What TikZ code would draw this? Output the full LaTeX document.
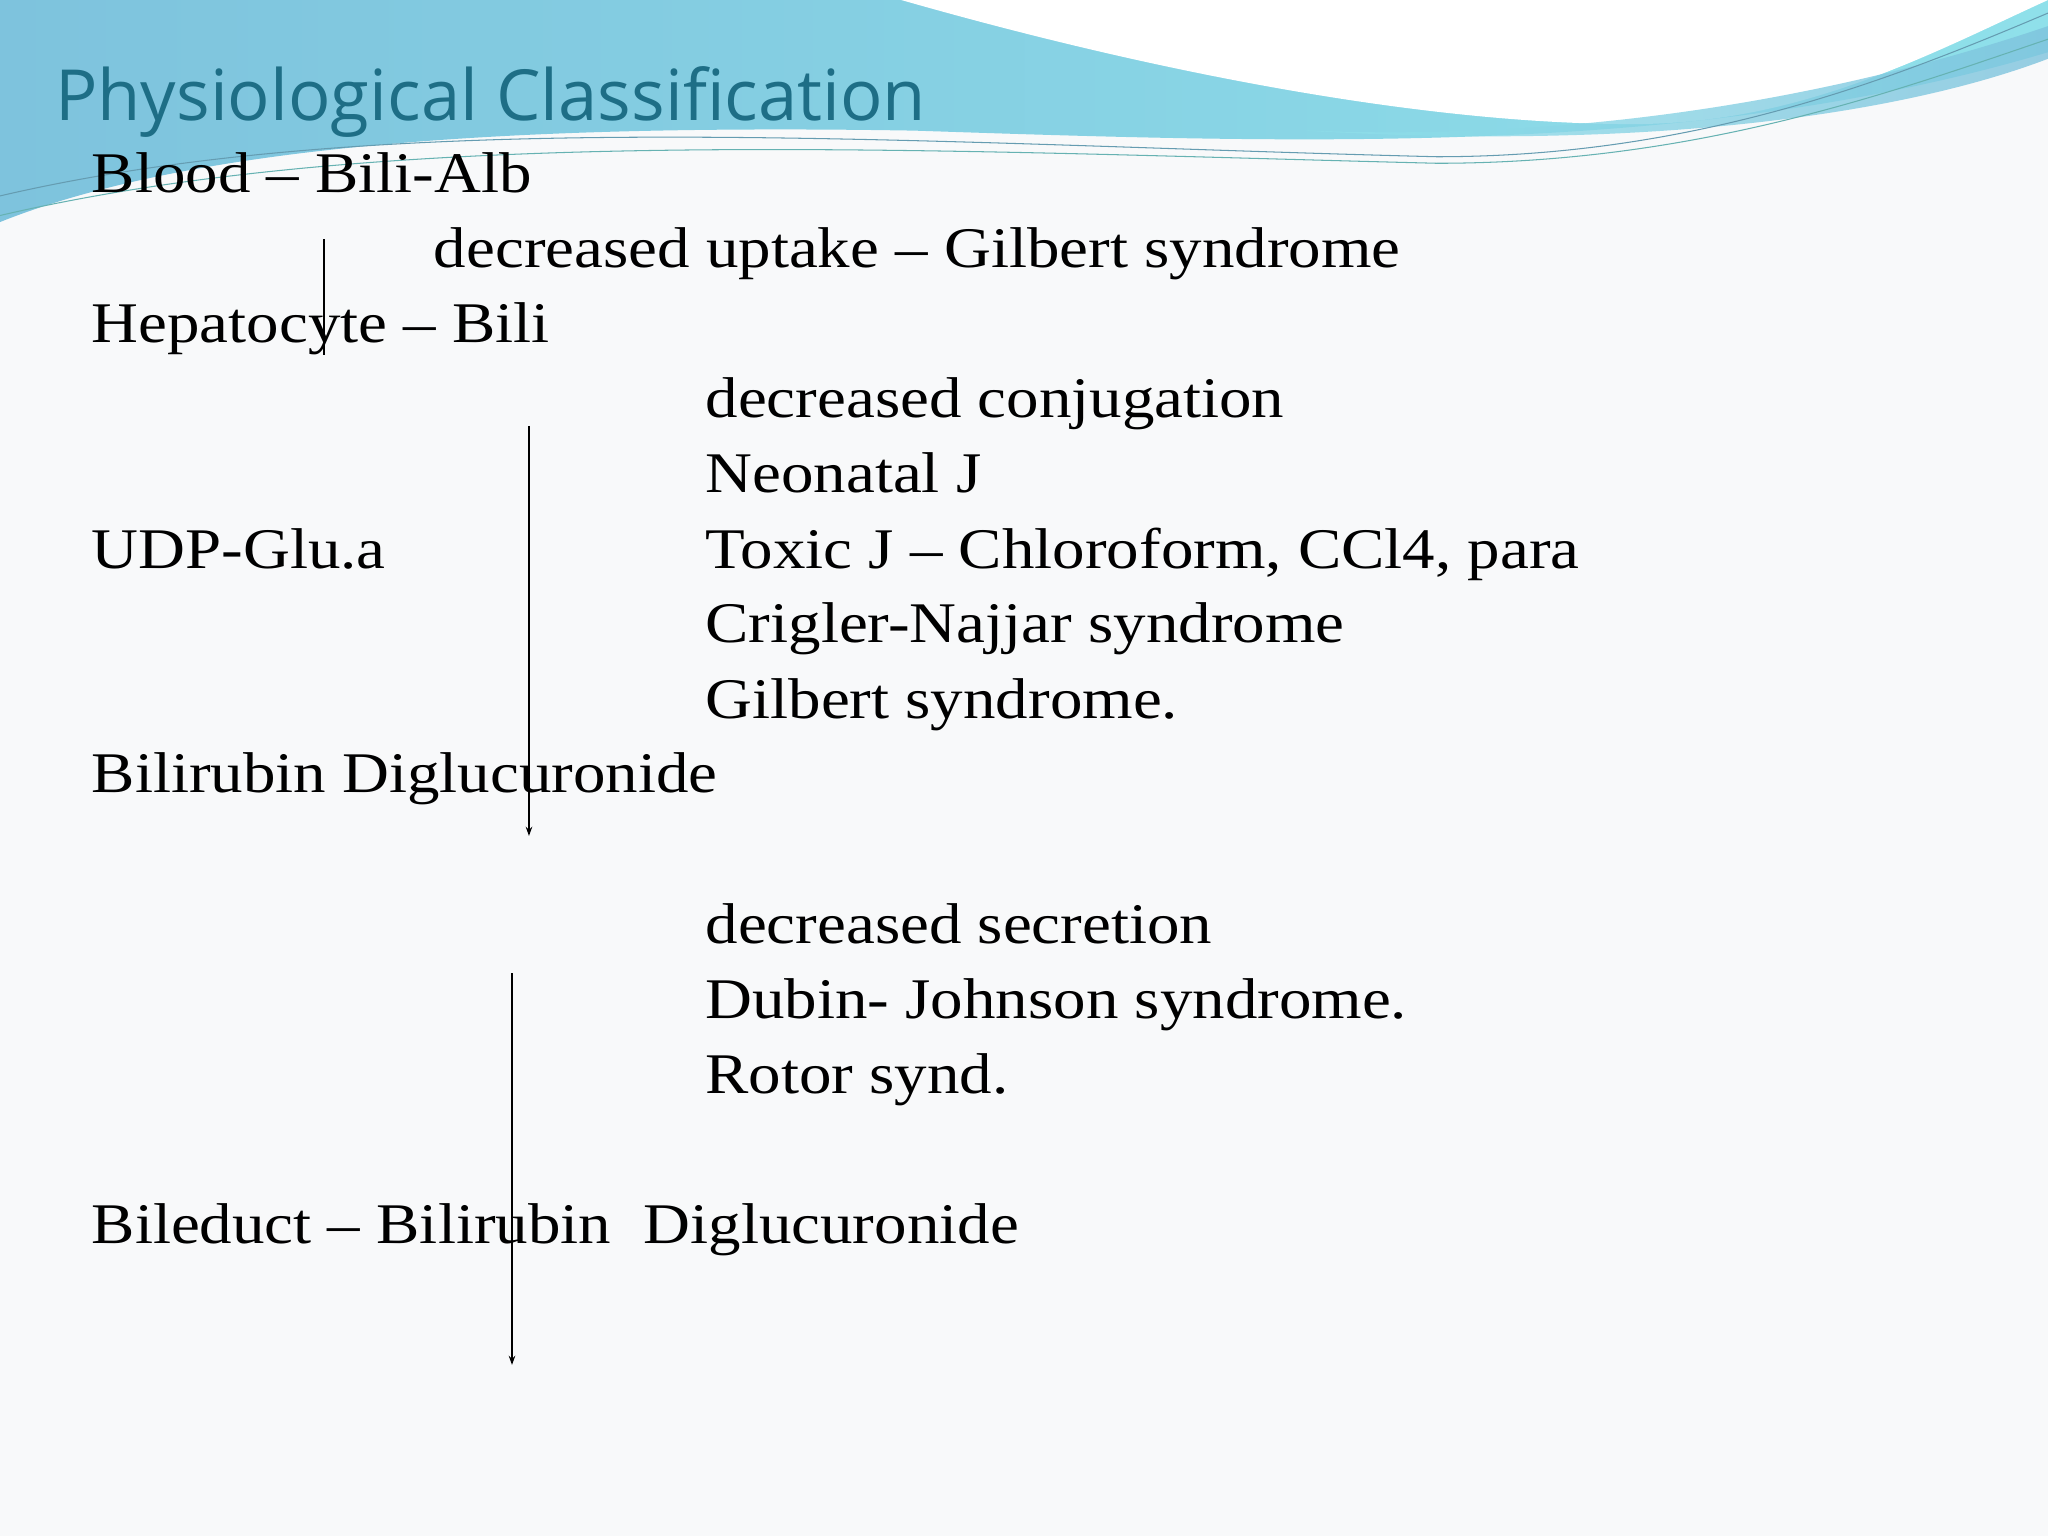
\documentclass[tikz,border=0pt]{standalone}
\usepackage{fontspec}
\setmainfont{Liberation Serif}[FakeStretch=1.13]
\newfontfamily\titlefont{Open Sans}
\usetikzlibrary{arrows.meta}
\definecolor{bg}{HTML}{F8F9FA}
\definecolor{wblue}{HTML}{7EC3DD}
\definecolor{wcyan}{HTML}{8FE0EA}
\definecolor{ttl}{HTML}{1E6E86}
\tikzset{txt/.style={anchor=base west,inner sep=0pt,font=\fontsize{44}{48}\selectfont},
 arr/.style={line width=1.2pt,-{Stealth[length=7pt,width=5pt]}}}
\begin{document}
\begin{tikzpicture}[x=1pt,y=-1pt]
\fill[bg] (0,0) rectangle (1568,1176);
\useasboundingbox (0,0) rectangle (1568,1176);
% waves
\shade[left color=wblue,right color=wcyan] (0,0) -- (1568,0) -- (1568,40) .. controls (1300,120) and (1000,110) .. (700,100) .. controls (400,95) and (150,110) .. (0,170) -- cycle;
\fill[white] (690,0) .. controls (900,60) and (1100,95) .. (1250,95) .. controls (1380,95) and (1480,40) .. (1568,0) -- cycle;
\shade[left color=wcyan,right color=wblue,opacity=0.8] (1000,100) .. controls (1250,110) and (1450,60) .. (1568,20) -- (1568,45) .. controls (1450,90) and (1250,115) .. (1000,100) -- cycle;
\draw[wblue!80!black,line width=0.8pt] (0,150) .. controls (300,80) and (700,110) .. (1100,120) .. controls (1300,120) and (1450,60) .. (1568,10);
\draw[teal!60,line width=0.8pt] (0,165) .. controls (300,95) and (700,115) .. (1100,125) .. controls (1300,125) and (1450,70) .. (1568,30);
% title
\node[anchor=base west,inner sep=0pt,font=\titlefont\fontsize{54}{58}\selectfont,text=ttl] (title) at (42,92) {Physiological Classification};
% texts
\node[txt] (t1) at (70,147) {Blood – Bili-Alb};
\node[txt] (t2) at (332,205) {decreased uptake – Gilbert syndrome};
\node[txt] (t3) at (70,262) {Hepatocyte – Bili};
\node[txt] (t4) at (540,320) {decreased conjugation};
\node[txt] (t5) at (540,377) {Neonatal J};
\node[txt] (t6) at (70,435) {UDP-Glu.a};
\node[txt] (t7) at (540,435) {Toxic J – Chloroform, CCl4, para};
\node[txt] (t8) at (540,492) {Crigler-Najjar syndrome};
\node[txt] (t9) at (540,550) {Gilbert syndrome.};
\node[txt] (t10) at (70,607) {Bilirubin Diglucuronide};
\node[txt] (t11) at (540,722) {decreased secretion};
\node[txt] (t12) at (540,780) {Dubin- Johnson syndrome.};
\node[txt] (t13) at (540,837) {Rotor synd.};
\node[txt] (t14) at (70,952) {Bileduct – Bilirubin\ \ Diglucuronide};
% arrows
\coordinate (a1) at (248,183); \coordinate (b1) at (248,272);
\coordinate (a2) at (405,326); \coordinate (b2) at (405,640);
\coordinate (a3) at (392,745); \coordinate (b3) at (392,1045);
\draw[line width=1.2pt] (a1) -- (b1);
\draw[arr] (a2) -- (b2);
\draw[arr] (a3) -- (b3);
\end{tikzpicture}
\end{document}
